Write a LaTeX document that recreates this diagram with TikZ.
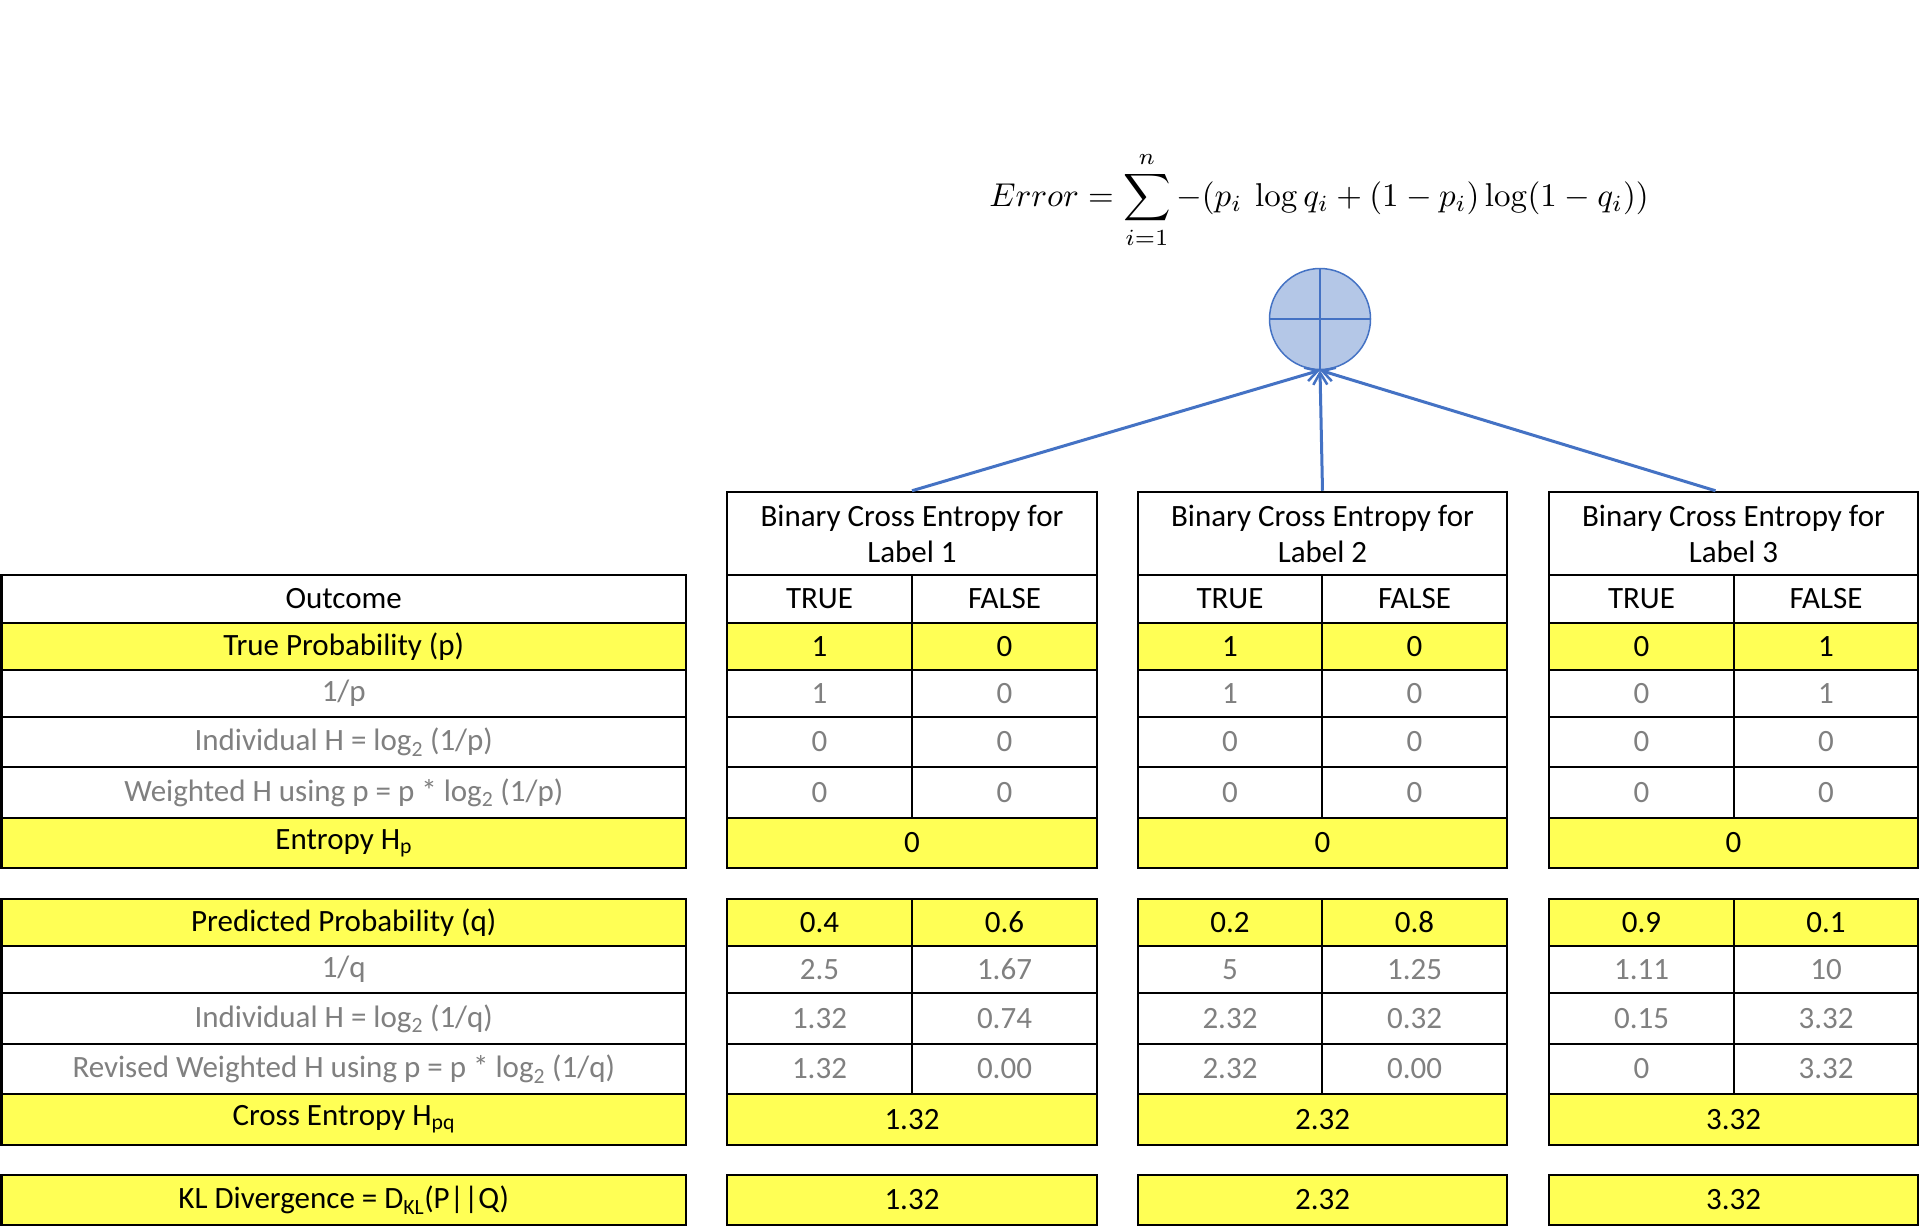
\documentclass[tikz,border=0pt]{standalone}
\usepackage[no-math]{fontspec}
\usepackage{graphicx}
\setmainfont{Carlito}
\usetikzlibrary{arrows.meta,calc}
\definecolor{yel}{RGB}{255,255,85}
\definecolor{gr}{RGB}{128,128,128}
\definecolor{cblue}{RGB}{68,114,196}
\definecolor{cfill}{RGB}{180,199,231}
\tikzset{cellsty/.style={draw=black,line width=2.5pt,inner sep=0pt,font=\fontsize{31}{36}\selectfont,align=center},
 arr/.style={draw=cblue,line width=3pt,-{Straight Barb[length=12pt,width=14pt,line width=2.5pt]}}}
\newcommand\cell[8]{\node[cellsty,fill=#6,text=#7,minimum width={#4-#2},minimum height={#5-#3}] (#1) at ({(#2+#4)/2},{(#3+#5)/2}) {#8};}
\newcommand\trow[8]{%
 \cell{#1a}{727}{#2}{912}{#3}{#4}{#5}{#6}\cell{#1b}{912}{#2}{1097}{#3}{#4}{#5}{#7}%
 \cell{#1c}{1138}{#2}{1322}{#3}{#4}{#5}{#8}\trowb{#1}{#2}{#3}{#4}{#5}}
\newcommand\trowb[8]{\cell{#1d}{1322}{#2}{1507}{#3}{#4}{#5}{#6}%
 \cell{#1e}{1549}{#2}{1734}{#3}{#4}{#5}{#7}\cell{#1f}{1734}{#2}{1918}{#3}{#4}{#5}{#8}}
\newcommand\mrow[8]{%
 \cell{#1a}{727}{#2}{1097}{#3}{#4}{#5}{#6}\cell{#1b}{1138}{#2}{1507}{#3}{#4}{#5}{#7}\cell{#1c}{1549}{#2}{1918}{#3}{#4}{#5}{#8}}
\begin{document}
\begin{tikzpicture}[x=1pt,y=-1pt]
\useasboundingbox[fill=white] (0,0) rectangle (1920,1228);
\node (f) at (1319,200) {\scalebox{3.3}{$\displaystyle Error=\sum_{i=1}^{n}-(p_i\ \log q_i+(1-p_i)\log(1-q_i))$}};
\node[circle,draw=cblue,fill=cfill,line width=1.5pt,minimum size=101pt,inner sep=0pt] (c) at (1320,319) {};
\draw[cblue,line width=1.2pt] (c.north)--(c.south) (c.west)--(c.east);
% headers
\cell{h1}{727}{492}{1097}{575}{white}{black}{Binary Cross Entropy for\\Label 1}
\cell{h2}{1138}{492}{1507}{575}{white}{black}{Binary Cross Entropy for\\Label 2}
\cell{h3}{1549}{492}{1918}{575}{white}{black}{Binary Cross Entropy for\\Label 3}
\draw[arr] (h1.north) -- (c.south);
\draw[arr] (h2.north) -- (c.south);
\draw[arr] ($(h3.north)+(-18,0)$) -- (c.south);
% left table
\cell{l1}{1.5}{575}{686}{623}{white}{black}{Outcome}
\cell{l2}{1.5}{623}{686}{670}{yel}{black}{True Probability (p)}
\cell{l3}{1.5}{670}{686}{717}{white}{gr}{1/p}
\cell{l4}{1.5}{717}{686}{767}{white}{gr}{Individual H = log\textsubscript{2} (1/p)}
\cell{l5}{1.5}{767}{686}{818}{white}{gr}{Weighted H using p = p * log\textsubscript{2} (1/p)}
\cell{l6}{1.5}{818}{686}{868}{yel}{black}{Entropy H\textsubscript{p}}
\cell{l7}{1.5}{899}{686}{946}{yel}{black}{Predicted Probability (q)}
\cell{l8}{1.5}{946}{686}{993}{white}{gr}{1/q}
\cell{l9}{1.5}{993}{686}{1044}{white}{gr}{Individual H = log\textsubscript{2} (1/q)}
\cell{l10}{1.5}{1044}{686}{1094}{white}{gr}{Revised Weighted H using p = p * log\textsubscript{2} (1/q)}
\cell{l11}{1.5}{1094}{686}{1145}{yel}{black}{Cross Entropy H\textsubscript{pq}}
\cell{l12}{1.5}{1175}{686}{1225}{yel}{black}{KL Divergence = D\textsubscript{KL}(P||Q)}
% label tables
\trow{ra}{575}{623}{white}{black}{TRUE}{FALSE}{TRUE}{FALSE}{TRUE}{FALSE}
\trow{rb}{623}{670}{yel}{black}{1}{0}{1}{0}{0}{1}
\trow{rc}{670}{717}{white}{gr}{1}{0}{1}{0}{0}{1}
\trow{rd}{717}{767}{white}{gr}{0}{0}{0}{0}{0}{0}
\trow{re}{767}{818}{white}{gr}{0}{0}{0}{0}{0}{0}
\mrow{rf}{818}{868}{yel}{black}{0}{0}{0}
\trow{rg}{899}{946}{yel}{black}{0.4}{0.6}{0.2}{0.8}{0.9}{0.1}
\trow{rh}{946}{993}{white}{gr}{2.5}{1.67}{5}{1.25}{1.11}{10}
\trow{ri}{993}{1044}{white}{gr}{1.32}{0.74}{2.32}{0.32}{0.15}{3.32}
\trow{rj}{1044}{1094}{white}{gr}{1.32}{0.00}{2.32}{0.00}{0}{3.32}
\mrow{rk}{1094}{1145}{yel}{black}{1.32}{2.32}{3.32}
\mrow{rl}{1175}{1225}{yel}{black}{1.32}{2.32}{3.32}
\end{tikzpicture}
\end{document}
